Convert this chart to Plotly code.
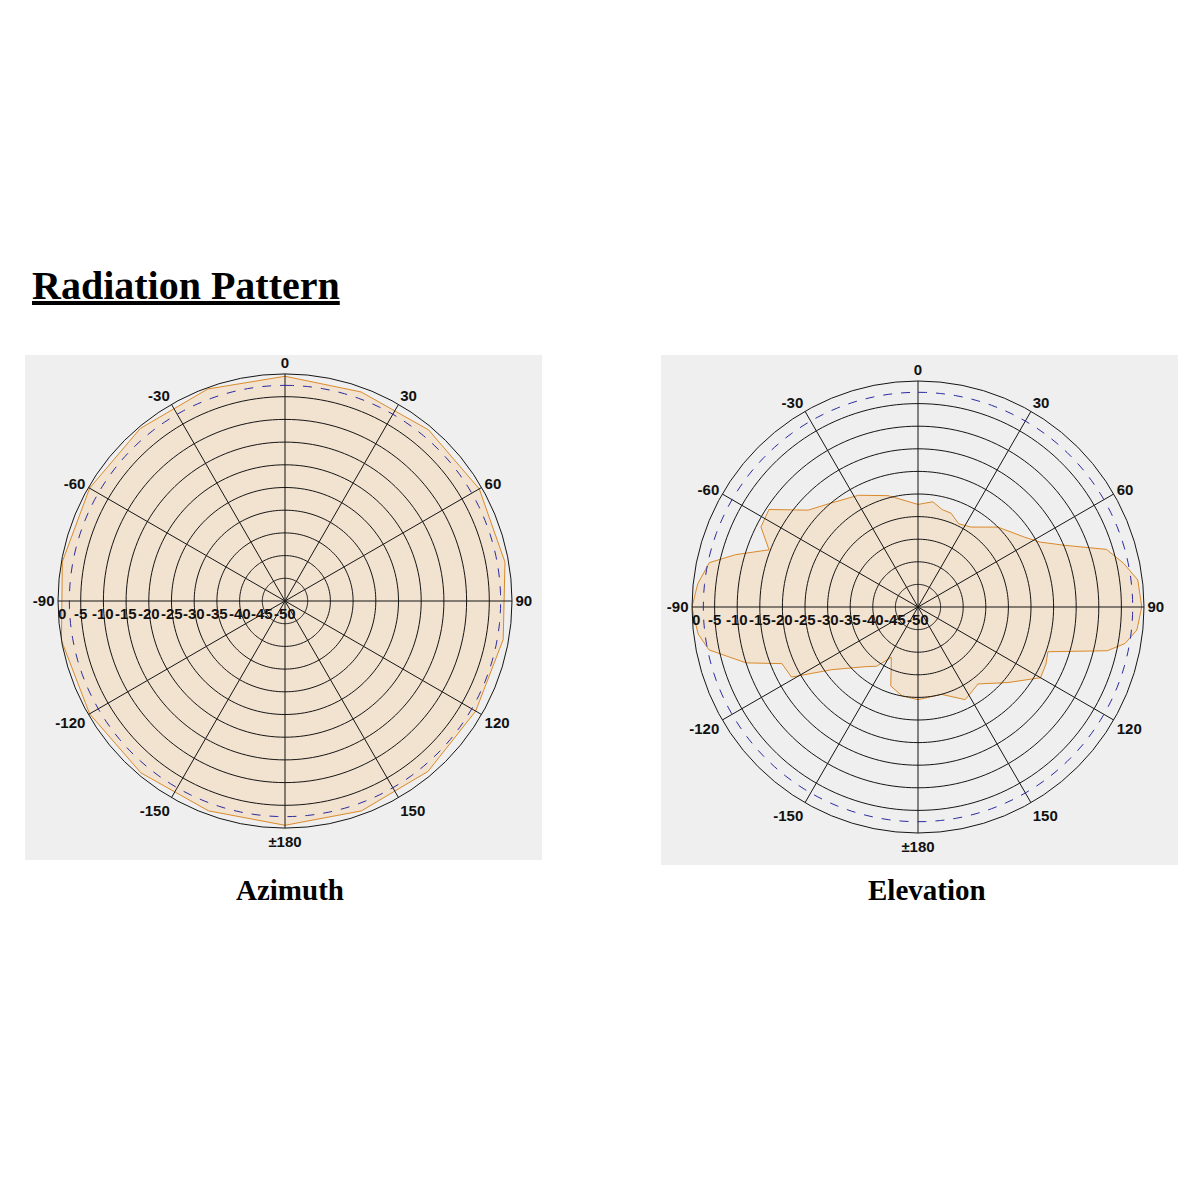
import plotly.graph_objects as go

# azimuth pattern, dB vs angle (deg, clockwise from top)
az_theta = [0, 20, 40, 60, 80, 100, 120, 140, 160, 180, 200, 220, 240, 260, 280, 300, 320, 340, 360]
az_db = [-0.5, -1.0, -0.8, -0.6, -0.8, -1.2, -1.5, -1.0, -0.8, -0.6, -0.8, -0.6, -0.3, 0.0, -0.2, -0.3, -0.4, -0.3, -0.5]

# elevation pattern
el_theta = [0, 8, 14, 19.5, 26, 33.5, 45, 56.8, 62, 67, 73, 78, 83, 90, 96, 100, 103, 109, 114, 120, 130, 142, 153, 165, 180,
            190, 199, 205, 208, 215, 221.4, 234, 241, 247.4, 252, 258.4, 263, 268, 270, 276, 282, 286, 291, 297, 303.2, 311.4, 320, 332, 345, 360]
el_db = [-27.3, -26.5, -27.8, -28, -29.5, -28.8, -25, -21.8, -19.4, -15, -6.4, -3.5, -1, -0.5, -1.3, -3.5, -7, -19.6, -19, -18.7, -24, -28.4, -27, -30, -29.5,
         -30, -31.5, -36, -37.4, -34, -32.4, -26.4, -18, -17.4, -10, -2.8, -1, -0.3, 0, -1, -2.8, -8, -14.7, -11, -10.6, -17.6, -20, -22, -24.5, -27.3]

ring_vals = [-50, -45, -40, -35, -30, -25, -20, -15, -10, -5, 0]
ring_text = ["-50", "-45", "-40", "-35", "-30", "-25", "-20", "-15", "-10", "-5", "0"]
ang_vals = [0, 30, 60, 90, 120, 150, 180, 210, 240, 270, 300, 330]
ang_text = ["0", "30", "60", "90", "120", "150", "±180", "-150", "-120", "-90", "-60", "-30"]
dash_db = -2.5

FILL = "rgba(242,222,200,0.8)"
LINE = "#d98a2b"
GRID = "#151515"
FONT = "Liberation Sans Narrow, Liberation Sans, Arial"
OFF = 8  # page body margin in px

def px(x):
    return (x - OFF) / 1200

def py(y):
    return 1 - (y - OFF) / 1200

circle = list(range(0, 361, 2))
fig = go.Figure()
for sub, th, r in [("polar", az_theta, az_db), ("polar2", el_theta, el_db)]:
    fig.add_trace(go.Scatterpolar(theta=th, r=r, mode="lines", fill="toself",
                                  fillcolor=FILL, line=dict(color=LINE, width=1),
                                  subplot=sub, showlegend=False, hoverinfo="skip"))
    # grid drawn on top of the fill
    for v in ring_vals[1:-1]:
        fig.add_trace(go.Scatterpolar(theta=circle, r=[v] * len(circle), mode="lines",
                                      line=dict(color=GRID, width=1), subplot=sub,
                                      showlegend=False, hoverinfo="skip"))
    for a in ang_vals[:6]:
        fig.add_trace(go.Scatterpolar(theta=[a, a + 180], r=[0, 0], mode="lines",
                                      line=dict(color=GRID, width=1), subplot=sub,
                                      showlegend=False, hoverinfo="skip"))
    fig.add_trace(go.Scatterpolar(theta=circle, r=[dash_db] * len(circle), mode="lines",
                                  line=dict(color="#2a2aa0", width=1, dash="dash"),
                                  subplot=sub, showlegend=False, hoverinfo="skip"))

def polar_layout(cx, cy, R):
    return dict(
        domain=dict(x=[px(cx - R), px(cx + R)], y=[py(cy + R), py(cy - R)]),
        bgcolor="rgba(0,0,0,0)",
        radialaxis=dict(range=[-50, 0], tickvals=ring_vals, showticklabels=False,
                        showline=False, showgrid=False, ticks=""),
        angularaxis=dict(rotation=90, direction="clockwise", tickvals=ang_vals,
                         ticktext=["<b>%s</b>" % t for t in ang_text], showgrid=False,
                         linecolor=GRID, linewidth=1, ticks="",
                         tickfont=dict(family=FONT, size=15, color="#111")),
    )

centers = [(285, 601, 227), (918, 607, 226)]
annotations = [
    dict(text="<b><u>Radiation Pattern</u></b>", x=px(30), y=py(285), xref="paper", yref="paper",
         xanchor="left", yanchor="middle", showarrow=False,
         font=dict(family="Liberation Serif", size=40, color="black")),
    dict(text="<b>Azimuth</b>", x=px(290), y=py(908), xref="paper", yref="paper", xanchor="center",
         showarrow=False, font=dict(family="Liberation Serif", size=29, color="black")),
    dict(text="<b>Elevation</b>", x=px(927), y=py(908), xref="paper", yref="paper", xanchor="center",
         showarrow=False, font=dict(family="Liberation Serif", size=29, color="black")),
]
# radial ring labels along the -90 spoke, below the line
for cx, cy, R in centers:
    for v, t in zip(ring_vals, ring_text):
        x = cx - (v + 50) / 50 * R + (4 if v == 0 else 0)
        annotations.append(dict(text="<b>%s</b>" % t, x=px(x), y=py(cy + 2), xref="paper", yref="paper",
                                xanchor="center", yanchor="top", showarrow=False,
                                font=dict(family=FONT, size=15, color="#111")))

fig.update_layout(
    width=1200, height=1200, margin=dict(l=0, r=0, t=0, b=0),
    paper_bgcolor="white",
    polar=polar_layout(*centers[0]),
    polar2=polar_layout(*centers[1]),
    shapes=[
        dict(type="rect", xref="paper", yref="paper", x0=px(25), x1=px(542),
             y0=py(860), y1=py(355), fillcolor="#efefef", line_width=0, layer="below"),
        dict(type="rect", xref="paper", yref="paper", x0=px(661), x1=px(1178),
             y0=py(865), y1=py(355), fillcolor="#efefef", line_width=0, layer="below"),
    ],
    annotations=annotations,
)

fig.write_html("out.html")
